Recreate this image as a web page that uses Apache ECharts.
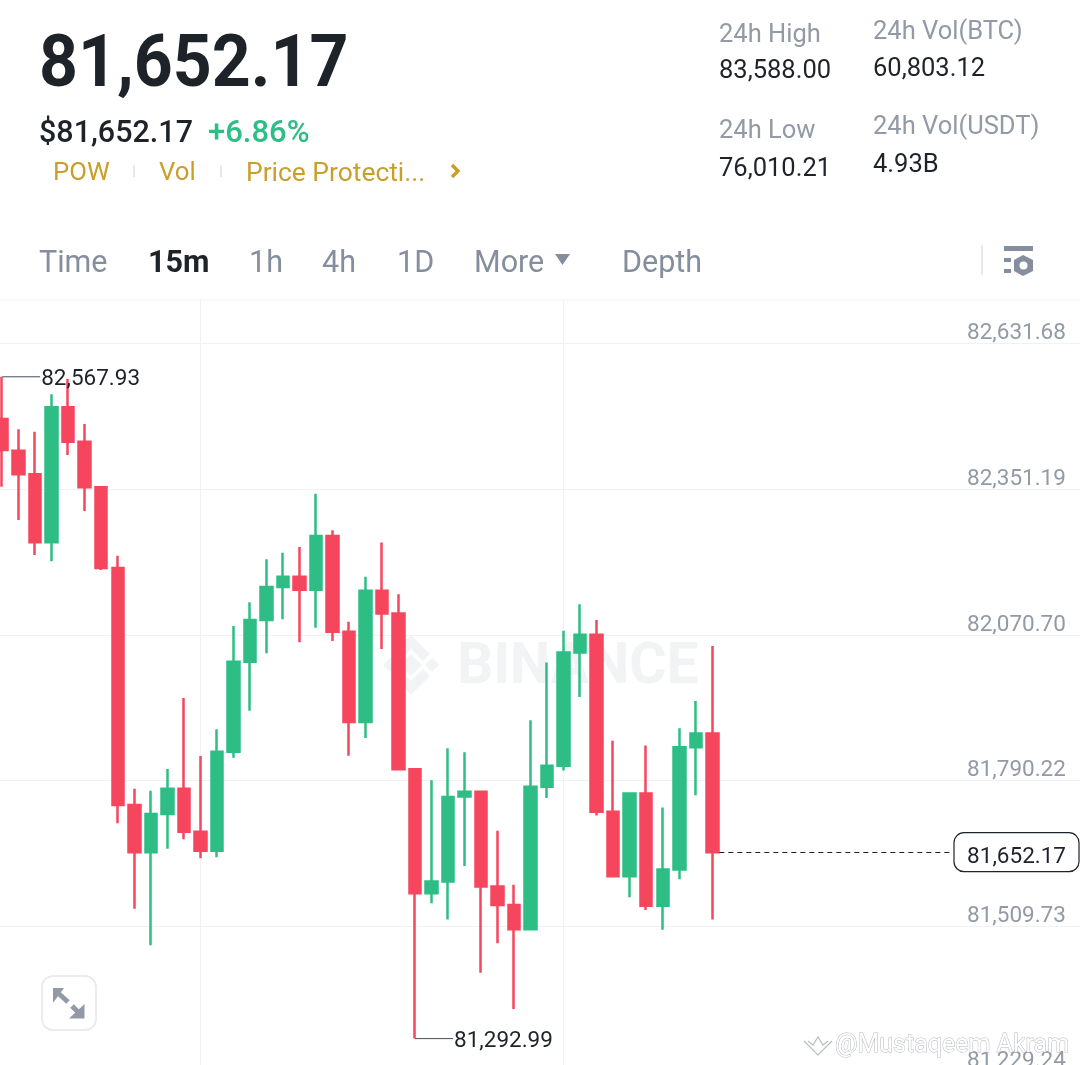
<!DOCTYPE html>
<html>
<head>
<meta charset="utf-8">
<title>BTC/USDT 15m</title>
<script src="https://cdn.jsdelivr.net/npm/echarts@6/dist/echarts.min.js"></script>
<style>
html, body { margin: 0; padding: 0; background: #fff; overflow: hidden; }
#main { width: 1080px; height: 1065px; }
</style>
</head>
<body>
<div id="main"></div>
<script>
// candles, oldest first
var opens = [82486.6, 82425.6, 82380.1, 82249.1, 82509.2, 82442.9, 82355.1, 82199.6, 81743.0, 81651.9, 81725.7,
    81774.4, 81691.6, 81655.0, 81845.7, 82019.1, 82099.4, 82163.0, 82182.8, 82157.8, 82261.2, 82076.9, 81902.9,
    82155.7, 82112.1, 81812.0, 81573.1, 81595.8, 81759.2, 81768.4, 81586.2, 81550.4, 81503.6, 81778.1, 81818.5,
    82036.6, 82071.1, 81729.9, 81605.7, 81765.2, 81549.0, 81618.8, 81854.4, 81881.0];
var closes = [82426.9, 82380.1, 82249.1, 82509.2, 82442.9, 82355.1, 82199.6, 81743.0, 81651.9, 81725.7, 81774.4,
    81691.6, 81655.0, 81845.7, 82019.1, 82099.4, 82163.0, 82182.8, 82157.8, 82261.2, 82076.9, 81902.9, 82155.9,
    82112.1, 81812.0, 81573.1, 81595.8, 81758.6, 81768.4, 81586.2, 81550.4, 81503.6, 81778.1, 81818.5, 82036.6,
    82071.1, 81729.9, 81605.7, 81765.2, 81549.0, 81618.8, 81854.4, 81881.0, 81652.17];
var lows = [82356.2, 82292.1, 82224.6, 82212.5, 82417.3, 82309.4, 82195.7, 81707.8, 81543.3, 81472.7, 81658.8,
    81676.9, 81640.4, 81642.3, 81834.1, 81924.7, 82035.3, 82100.8, 82056.5, 82084.6, 82059.0, 81838.0, 81872.1,
    82043.7, 81809.5, 81292.99, 81553.7, 81522.4, 81625.3, 81420.1, 81476.8, 81350.0, 81503.6, 81756.7, 81809.5,
    81951.3, 81722.8, 81605.7, 81565.4, 81540.7, 81502.8, 81599.9, 81761.9, 81522.4];
var highs = [82567.93, 82466.8, 82462.2, 82534.2, 82563.7, 82477.0, 82355.1, 82223.3, 81774.4, 81770.6, 81812.4,
    81949.2, 81837.4, 81888.9, 82087.9, 82133.5, 82216.4, 82229.1, 82240.1, 82342.7, 82272.2, 82096.1, 82182.8,
    82248.7, 82149.1, 81812.0, 81790.6, 81852.4, 81844.6, 81768.4, 81693.5, 81589.5, 81906.4, 82017.7, 82078.8,
    82129.7, 82099.6, 81866.7, 81765.2, 81857.7, 81738.4, 81890.8, 81943.4, 82049.5];
var priceTicks = [81229.24, 81509.73, 81790.22, 82070.70, 82351.19, 82631.68];
var extremes = [[0, 82567.93], [25, 81292.99]];
var lastPrice = [[43, 81652.17]];
var timeLines = [12, 34];

var tabs = [['Time', 39, false], ['15m', 148, true], ['1h', 249, false], ['4h', 322, false], ['1D', 397, false], ['More', 474, false], ['Depth', 622, false]];
var stats = [
    ['24h High', 719, 36, '83,588.00', 72],
    ['24h Low', 719, 132, '76,010.21', 170],
    ['24h Vol(BTC)', 873, 33, '60,803.12', 70],
    ['24h Vol(USDT)', 873, 128, '4.93B', 166]
];

var DARK = '#1e2329', GREY = '#929aa5', TAB = '#848e9c', UP = '#2ebd85', DOWN = '#f6465d', GOLD = '#c99f2a', LINE = '#eff1f3';
var FONT = 'Roboto';

// categories run past the last candle so the empty right side keeps its room
var categories = [];
for (var i = 0; i < 66; i++) {
    categories.push('#' + i);
}
var candles = opens.map(function (o, i) {
    return [o, closes[i], lows[i], highs[i]];
});

function fmt(v) {
    return v.toLocaleString('en-US', {minimumFractionDigits: 2, maximumFractionDigits: 2});
}

function label(text, x, y, size, color, weight) {
    return {
        type: 'text', z: 10, silent: true,
        style: {
            text: text, x: x, y: y, fill: color, fontFamily: FONT, fontSize: size,
            fontWeight: weight || 400, align: 'left', verticalAlign: 'middle'
        }
    };
}

function poly(points, color, z) {
    return {type: 'polygon', z: z === undefined ? 10 : z, silent: true, shape: {points: points}, style: {fill: color}};
}

function stroke(points, color, width, z) {
    return {type: 'polyline', z: z === undefined ? 10 : z, silent: true, shape: {points: points}, style: {fill: 'none', stroke: color, lineWidth: width}};
}

var elements = [];
// header
var big = label('81,652.17', 39, 68, 68, DARK, 700);
big.scaleY = 1.06; big.originY = 68;
elements.push(big);
elements.push(label('$81,652.17', 39, 134, 30.5, DARK, 500));
elements.push(label('+6.86%', 208, 134, 31, UP, 500));
elements.push(label('POW', 53, 174, 25.7, GOLD));
elements.push(label('Vol', 159, 174, 25.7, GOLD));
elements.push(label('Price Protecti...', 246, 174, 26.4, GOLD));
elements.push(stroke([[134, 165], [134, 177]], '#e6e8ea', 2));
elements.push(stroke([[221, 165], [221, 177]], '#e6e8ea', 2));
elements.push(stroke([[452, 165], [458, 171], [452, 177]], GOLD, 3.5));
stats.forEach(function (s) {
    elements.push(label(s[0], s[1], s[2], 25.5, GREY));
    elements.push(label(s[3], s[1], s[4], 25.5, DARK));
});
tabs.forEach(function (t) {
    elements.push(label(t[0], t[1], 264, 30.5, t[2] ? DARK : TAB, t[2] ? 700 : 400));
});
elements.push(poly([[555, 254], [570, 254], [562.5, 265]], TAB));
elements.push(stroke([[982, 245], [982, 275]], '#e6e8ea', 2));
elements.push({type: 'rect', z: 10, silent: true, shape: {x: 1004, y: 246, width: 29, height: 5}, style: {fill: TAB}});
elements.push({type: 'rect', z: 10, silent: true, shape: {x: 1004, y: 258, width: 7, height: 4}, style: {fill: TAB}});
elements.push({type: 'rect', z: 10, silent: true, shape: {x: 1004, y: 269, width: 7, height: 4}, style: {fill: TAB}});
elements.push(poly([[1023, 255], [1033, 260], [1033, 271], [1023, 276], [1014, 271], [1014, 260]], TAB));
elements.push({type: 'circle', z: 10, silent: true, shape: {cx: 1023.5, cy: 265.5, r: 4}, style: {fill: '#fff'}});
elements.push(stroke([[0, 300], [1080, 300]], LINE, 1));

// faint logo behind the candles
var MARK = '#f2f3f4';
elements.push({type: 'text', z: 0, silent: true, style: {
    text: 'BINANCE', x: 457, y: 669, fill: MARK, fontFamily: FONT, fontSize: 57, fontWeight: 700, align: 'left', verticalAlign: 'middle'
}});
elements.push(poly([[411, 654], [422, 665], [411, 676], [400, 665]], MARK, 0));
elements.push(poly([[390, 658], [397, 665], [390, 672], [383, 665]], MARK, 0));
elements.push(poly([[432, 658], [439, 665], [432, 672], [425, 665]], MARK, 0));
elements.push(poly([[411, 635], [430, 654], [423, 661], [411, 649], [399, 661], [392, 654]], MARK, 0));
elements.push(poly([[411, 695], [430, 676], [423, 669], [411, 681], [399, 669], [392, 676]], MARK, 0));

// expand button
elements.push({type: 'rect', z: 10, silent: true, shape: {x: 42, y: 976, width: 54, height: 54, r: 11}, style: {fill: '#fff', stroke: '#eaecef', lineWidth: 2}});
elements.push(poly([[53, 988], [64, 988], [53, 1003]], GREY));
elements.push(stroke([[57, 992], [68, 1002]], GREY, 5));
elements.push(poly([[84.5, 1018.5], [84.5, 1004], [69, 1018.5]], GREY));
elements.push(stroke([[81, 1015], [72, 1006]], GREY, 5));

// bottom right credit
elements.push({type: 'text', z: 20, silent: true, style: {
    text: '@Mustaqeem Akram', x: 835, y: 1046, fill: '#fff', stroke: '#b4b8be', lineWidth: 1,
    fontFamily: FONT, fontSize: 25, align: 'left', verticalAlign: 'middle'
}});
elements.push(stroke([[804, 1041], [818, 1055], [832, 1041]], '#b9bdc3', 1.2, 20));
elements.push(stroke([[808, 1041], [813, 1045], [818, 1037], [823, 1045], [828, 1041]], '#b9bdc3', 1.2, 20));

var myChart = echarts.init(document.getElementById('main'), null, {renderer: 'canvas'});

var option = {
    animation: false,
    backgroundColor: '#fff',
    graphic: {elements: elements},
    grid: {left: -6.1, top: 300, width: 1090, height: 771.7, outerBoundsMode: 'none'},
    xAxis: {
        type: 'category',
        data: categories,
        boundaryGap: true,
        axisLine: {show: false},
        axisTick: {show: false},
        axisLabel: {show: false},
        splitLine: {
            show: true,
            alignWithLabel: true,
            interval: function (index) {
                return timeLines.indexOf(index) >= 0;
            },
            lineStyle: {color: LINE, width: 1}
        }
    },
    yAxis: {
        type: 'value',
        position: 'right',
        scale: true,
        min: 81229.24,
        max: 82715.87,
        axisLine: {show: false},
        axisTick: {show: false, customValues: priceTicks},
        axisLabel: {
            customValues: priceTicks,
            inside: true,
            margin: 18,
            color: GREY,
            fontFamily: FONT,
            fontSize: 22.5,
            align: 'right',
            verticalAlign: 'bottom',
            lineHeight: 20,
            formatter: function (v) {
                return fmt(v);
            }
        },
        splitLine: {show: true, lineStyle: {color: LINE, width: 1}}
    },
    series: [
        {
            type: 'candlestick',
            data: candles,
            barWidth: 12,
            clip: false,
            itemStyle: {
                color: UP,
                color0: DOWN,
                borderColor: UP,
                borderColor0: DOWN,
                borderWidth: 2.5
            }
        },
        {
            // high and low of the visible range
            type: 'custom',
            data: extremes,
            z: 5,
            silent: true,
            renderItem: function (params, api) {
                var p = api.coord([api.value(0), api.value(1)]);
                return {
                    type: 'group',
                    children: [
                        {type: 'line', shape: {x1: p[0], y1: p[1], x2: p[0] + 38, y2: p[1]}, style: {stroke: '#474d57', lineWidth: 1}},
                        {type: 'text', style: {
                            text: fmt(api.value(1)), x: p[0] + 39, y: p[1] + 3, fill: DARK, fontFamily: FONT, fontSize: 22.5,
                            align: 'left', verticalAlign: 'middle'
                        }}
                    ]
                };
            }
        },
        {
            // last price line and tag
            type: 'custom',
            data: lastPrice,
            z: 5,
            silent: true,
            renderItem: function (params, api) {
                var p = api.coord([api.value(0), api.value(1)]);
                var lineY = Math.round(p[1]) + 0.5;
                return {
                    type: 'group',
                    children: [
                        {type: 'line', shape: {x1: p[0] + 7, y1: lineY, x2: 953, y2: lineY}, style: {stroke: DARK, lineWidth: 1, lineDash: [5, 4]}},
                        {type: 'rect', shape: {x: 954, y: p[1] - 19.5, width: 125, height: 39, r: 10}, style: {fill: '#fff', stroke: DARK, lineWidth: 1.2}},
                        {type: 'text', style: {
                            text: fmt(api.value(1)), x: 1066, y: p[1] + 5, fill: DARK, fontFamily: FONT, fontSize: 22.5,
                            align: 'right', verticalAlign: 'middle'
                        }}
                    ]
                };
            }
        }
    ]
};

myChart.setOption(option);
</script>
</body>
</html>
